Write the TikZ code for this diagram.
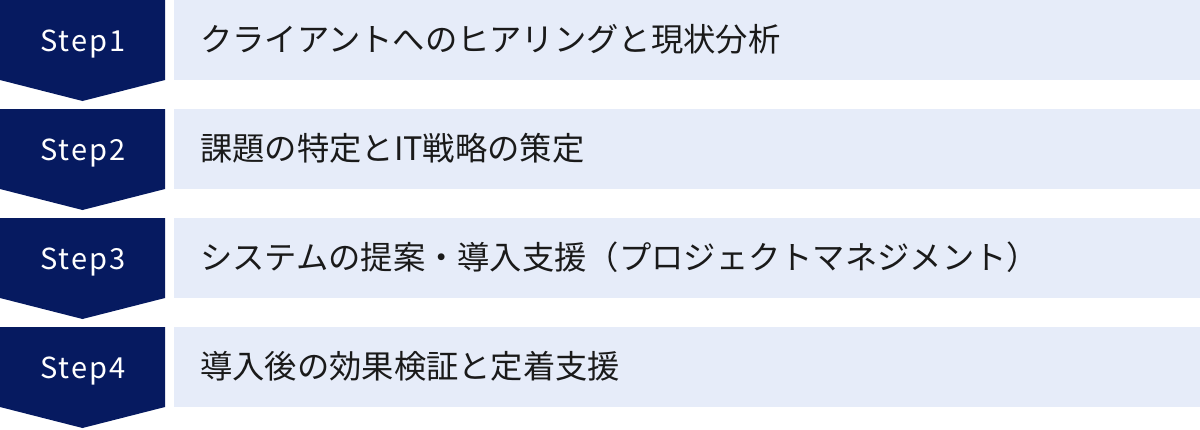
\documentclass[tikz,border=0pt]{standalone}
\usepackage{fontspec}
\setmainfont{Noto Sans CJK JP}
\newfontfamily\stepfont[LetterSpace=7]{Noto Sans CJK JP}
\definecolor{navy}{HTML}{061A60}
\definecolor{pale}{HTML}{E6ECF9}
\definecolor{ink}{HTML}{1A1A1A}
\tikzset{
  chev/.style={fill=navy, draw=none},
  band/.style={fill=pale, draw=none},
  steplabel/.style={anchor=base, inner sep=0pt, text=white, font=\stepfont\fontsize{29}{34}\selectfont},
  tasklabel/.style={anchor=base west, inner sep=0pt, text=ink, font=\fontsize{32.3}{38}\selectfont},
}
\begin{document}
\begin{tikzpicture}[x=1pt,y=-1pt]
\useasboundingbox (0,0) rectangle (1200,429);
\foreach \i/\t in {0/クライアントへのヒアリングと現状分析,1/課題の特定とIT戦略の策定,2/システムの提案・導入支援（プロジェクトマネジメント）,3/導入後の効果検証と定着支援}{
  \pgfmathsetmacro{\yy}{109*\i}
  \path[chev] (0,\yy) -- (165,\yy) -- (165,\yy+80) -- (82.5,\yy+101) -- (0,\yy+80) -- cycle;
  \path[band] (174,\yy) rectangle (1200,\yy+80);
  \pgfmathtruncatemacro{\n}{\i+1}
  \node[steplabel] (s\n) at (83,\yy+51) {Step\n};
  \node[tasklabel] (t\n) at (200,\yy+51.5) {\t};
}
\end{tikzpicture}
\end{document}
